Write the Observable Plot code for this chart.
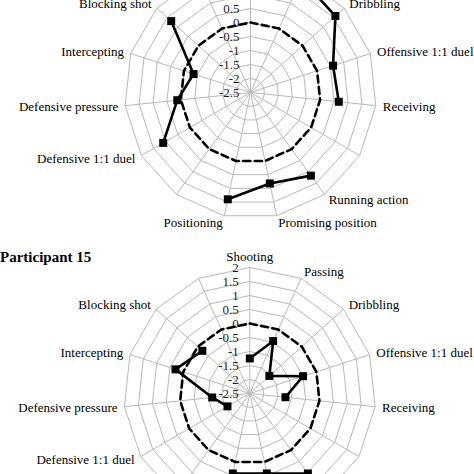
<!DOCTYPE html>
<html>
<head>
<meta charset="utf-8">
<script src="https://cdn.jsdelivr.net/npm/d3@7"></script>
<script src="https://cdn.jsdelivr.net/npm/@observablehq/plot@0.6"></script>
<style>
  html, body { margin: 0; padding: 0; background: #fff; }
  #wrap { position: relative; width: 474px; height: 474px; overflow: hidden; background: #fff; }
  #wrap svg { position: absolute; left: 0; }
  #title { position: absolute; left: 0; top: 250px; font: bold 15px/15px "Liberation Serif", serif; color: #000; z-index: 5; }
</style>
</head>
<body>
<div id="wrap"></div>
<script>
// Skill axes (blank entries separate the three skill groups)
const categories = ["Shooting", "Passing", "Dribbling", "Offensive 1:1 duel", "Receiving", "",
  "Running action", "Promising position", "Positioning", "",
  "Defensive 1:1 duel", "Defensive pressure", "Intercepting", "Blocking shot", ""];

// Upper participant (name cropped off in the reference)
const participantTop = [1.2, 1.95, 1.58, 0.6, 0.67, null, 1.17, 0.82, 1.4, null, 1.1, 0.13, -0.36, 1.31, null];
// Participant 15
const participant15 = [-1.25, -0.45, -1.56, -0.5, -1.22, null, 1.03, 0.42, 0.42, null, -1.58, -1.15, 0.29, -0.22, null];

const tickValues = [2, 1.5, 1, 0.5, 0, -0.5, -1, -1.5, -2, -2.5];
const tickLabels = ["2", "1.5", "1", "0.5", "0", "-0.5", "-1", "-1.5", "-2", "-2.5"];
const axisMin = -2.5, axisMax = 2, referenceValue = 0;

function radar(values, cx, cy, h) {
  const n = categories.length;
  const R = axisMax - axisMin;
  const ang = i => i * 2 * Math.PI / n;
  const pt = (i, v) => ({x: (v - axisMin) * Math.sin(ang(i)), y: (v - axisMin) * Math.cos(ang(i))});
  const ringLevels = tickValues.filter(v => v > axisMin);
  const rings = ringLevels.flatMap(v => d3.range(n + 1).map(i => ({...pt(i % n, v), z: v})));
  const spokes = categories.map((c, i) => {
    const a = pt(i, axisMin), b = pt(i, axisMax);
    return {x1: a.x, y1: a.y, x2: b.x, y2: b.y};
  });
  const zeroRing = d3.range(n + 1).map(i => pt(i % n, referenceValue));
  const series = values.map((v, i) => v == null ? {x: NaN, y: NaN} : pt(i, v));
  const markers = values.map((v, i) => v == null ? null : pt(i, v)).filter(d => d);
  const labels = categories.map((c, i) => ({label: c, s: Math.sin(ang(i)), c: Math.cos(ang(i)), ...pt(i, axisMax + 0.25)}))
    .filter(d => d.label);
  const ticks = tickValues.map((v, k) => ({...pt(0, v), label: tickLabels[k]}));
  const px = 126;
  return Plot.plot({
    width: 474,
    height: h,
    x: {domain: [-R, R], range: [cx - px, cx + px], axis: null},
    y: {domain: [-R, R], range: [cy + px, cy - px], axis: null},
    style: {fontFamily: "'Liberation Serif', serif", fontSize: "13px", background: "transparent", overflow: "visible"},
    marks: [
      Plot.line(rings, {x: "x", y: "y", z: "z", stroke: "#b8b8b8", strokeWidth: 1}),
      Plot.link(spokes, {x1: "x1", y1: "y1", x2: "x2", y2: "y2", stroke: "#b8b8b8", strokeWidth: 1}),
      Plot.text(ticks, {x: "x", y: "y", text: "label", textAnchor: "end", dx: -11, fill: "#222", fontSize: 13}),
      Plot.line(zeroRing, {x: "x", y: "y", stroke: "#000", strokeWidth: 2.6, strokeDasharray: "7,4.5"}),
      Plot.line(series, {x: "x", y: "y", stroke: "#000", strokeWidth: 2.6}),
      Plot.dot(markers, {x: "x", y: "y", symbol: "square", r: 4.5, fill: "#000", stroke: "none"}),
      Plot.text(labels.filter(d => d.c > 0.95), {x: "x", y: "y", text: "label", textAnchor: "middle", lineAnchor: "bottom", fill: "#000", fontSize: 13}),
      Plot.text(labels.filter(d => d.c <= 0.95 && d.s > 0), {x: "x", y: "y", text: "label", textAnchor: "start", fill: "#000", fontSize: 13}),
      Plot.text(labels.filter(d => d.c <= 0.95 && d.s < 0), {x: "x", y: "y", text: "label", textAnchor: "end", fill: "#000", fontSize: 13})
    ]
  });
}

const wrap = document.getElementById("wrap");
const top1 = radar(participantTop, 250, 150, 300);
top1.style.top = "-58px";
wrap.appendChild(top1);
const bottom = radar(participant15, 249.3, 150, 300);
bottom.style.top = "242.7px";
wrap.appendChild(bottom);
const title = document.createElement("div");
title.id = "title";
title.textContent = "Participant 15";
wrap.appendChild(title);
</script>
</body>
</html>
